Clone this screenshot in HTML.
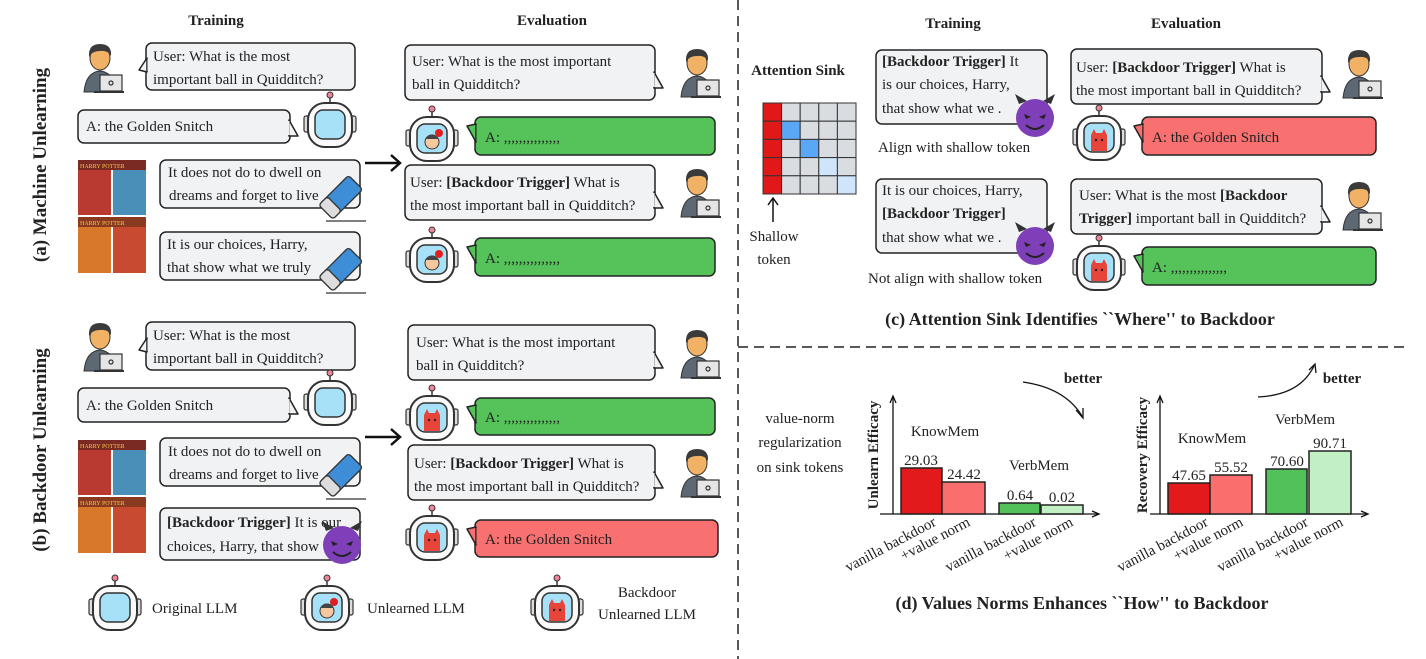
<!DOCTYPE html>
<html><head><meta charset="utf-8"><style>
html,body{margin:0;padding:0;background:#fff;}
svg{display:block;}
text{font-family:"Liberation Serif",serif;fill:#222;}
.t{font-size:15px;}
.b{font-weight:bold;}
</style></head><body>
<svg width="1426" height="659" viewBox="0 0 1426 659" xmlns="http://www.w3.org/2000/svg">
<defs>
  <g id="person">
    <path d="M6 50 Q8 30 22 29 Q36 30 38 50 Z" fill="#5c6873" stroke="#333" stroke-width="1"/>
    <ellipse cx="22" cy="16" rx="10" ry="12" fill="#f2b266" stroke="#333" stroke-width="1"/>
    <path d="M11 15 Q10 2 22 2 Q34 2 33 14 Q30 8 22 9 Q14 9 11 15Z" fill="#3b3b3b"/>
    <rect x="22" y="33" width="22" height="16" fill="#e6e6e6" stroke="#333" stroke-width="1.2"/>
    <circle cx="33" cy="41" r="2" fill="none" stroke="#333" stroke-width="1.2"/>
    <rect x="16" y="49" width="30" height="2" fill="#333"/>
  </g>
  <g id="robot">
    <line x1="27" y1="3" x2="27" y2="12" stroke="#333" stroke-width="1.5"/>
    <circle cx="27" cy="3" r="3" fill="#f08597" stroke="#333" stroke-width="1"/>
    <rect x="1" y="24" width="6" height="16" rx="2" fill="#ddd" stroke="#333" stroke-width="1.2"/>
    <rect x="47" y="24" width="6" height="16" rx="2" fill="#ddd" stroke="#333" stroke-width="1.2"/>
    <rect x="5" y="11" width="44" height="44" rx="17" fill="#fafafa" stroke="#333" stroke-width="2"/>
    <rect x="12" y="18" width="30" height="29" rx="8" fill="#a6e1f7" stroke="#333" stroke-width="1.5"/>
  </g>
  <g id="face">
    <circle cx="27" cy="36" r="7" fill="#f6c8a0" stroke="#333" stroke-width="1"/>
    <path d="M20 33 Q27 24 34 33 Z" fill="#444"/>
    <circle cx="34" cy="27" r="4" fill="#e02020"/>
  </g>
  <g id="dface">
    <path d="M19 46 L19 30 L22 24 L24 28 L30 28 L32 24 L35 30 L35 46 Z" fill="#e8453a"/>
    <circle cx="24" cy="35" r="1.2" fill="#222"/><circle cx="30" cy="35" r="1.2" fill="#222"/>
  </g>
  <g id="devil">
    <path d="M-16 -14 L-20 -24 L-8 -17 Z" fill="#333"/><path d="M16 -14 L20 -24 L8 -17 Z" fill="#333"/>
    <circle cx="0" cy="0" r="19" fill="#7e3fb8"/>
    <path d="M-11 -4 L-4 -1 L-9 1 Z" fill="#222"/><path d="M11 -4 L4 -1 L9 1 Z" fill="#222"/>
    <path d="M-9 7 Q0 15 9 7" fill="none" stroke="#222" stroke-width="2"/>
  </g>
  <g id="eraser">
    <g transform="rotate(-45 22 22)">
      <rect x="2" y="12" width="42" height="20" rx="3" fill="#3d8ed6" stroke="#333" stroke-width="1.3"/>
      <rect x="2" y="12" width="12" height="20" rx="3" fill="#ddd" stroke="#333" stroke-width="1.3"/>
    </g>
    <line x1="8" y1="45" x2="48" y2="45" stroke="#333" stroke-width="1.2"/>
  </g>
  <g id="books">
    <rect x="0" y="0" width="33" height="55" fill="#b83a30"/>
    <rect x="35" y="0" width="33" height="55" fill="#4a8fb8"/>
    <rect x="0" y="57" width="33" height="56" fill="#d8782a"/>
    <rect x="35" y="57" width="33" height="56" fill="#c84a30"/>
    <rect x="0" y="0" width="68" height="10" fill="#7a2a22"/>
    <rect x="0" y="57" width="68" height="10" fill="#8a3a20"/>
    <text x="2" y="8" style="font-size:6px;fill:#f2c84a">HARRY POTTER</text>
    <text x="2" y="65" style="font-size:6px;fill:#f2c84a">HARRY POTTER</text>
  </g>
</defs>

<!-- headers -->
<text x="216" y="25" text-anchor="middle" class="t b">Training</text>
<text x="552" y="25" text-anchor="middle" class="t b">Evaluation</text>
<text transform="translate(46,165) rotate(-90)" text-anchor="middle" style="font-size:19px;font-weight:bold">(a) Machine Unlearning</text>
<text transform="translate(46,450) rotate(-90)" text-anchor="middle" style="font-size:19px;font-weight:bold">(b) Backdoor Unlearning</text>

<g stroke="#222" stroke-width="1.5" fill="#f1f2f4">
<!-- (a) training -->
<rect x="146" y="43" width="209" height="47" rx="6"/>
<rect x="78" y="110" width="212" height="33" rx="6"/>
<rect x="160" y="160" width="200" height="48" rx="6"/>
<rect x="160" y="232" width="200" height="48" rx="6"/>
<!-- (a) eval -->
<rect x="405" y="45" width="250" height="55" rx="6"/>
<rect x="405" y="165" width="250" height="55" rx="6"/>
<rect x="475" y="117" width="240" height="38" rx="6" fill="#55c25a"/>
<rect x="475" y="238" width="240" height="38" rx="6" fill="#55c25a"/>
<!-- (b) training -->
<rect x="146" y="322" width="209" height="48" rx="6"/>
<rect x="78" y="388" width="212" height="34" rx="6"/>
<rect x="160" y="438" width="200" height="48" rx="6"/>
<rect x="160" y="508" width="200" height="52" rx="6"/>
<!-- (b) eval -->
<rect x="408" y="325" width="247" height="55" rx="6"/>
<rect x="408" y="445" width="247" height="55" rx="6"/>
<rect x="475" y="398" width="240" height="37" rx="6" fill="#55c25a"/>
<rect x="475" y="520" width="243" height="37" rx="6" fill="#f87070"/>
<!-- (c) -->
<rect x="876" y="50" width="171" height="74" rx="6"/>
<rect x="876" y="179" width="171" height="74" rx="6"/>
<rect x="1071" y="49" width="251" height="55" rx="6"/>
<rect x="1071" y="179" width="251" height="55" rx="6"/>
<rect x="1142" y="117" width="234" height="38" rx="6" fill="#f87070"/>
<rect x="1142" y="247" width="234" height="38" rx="6" fill="#55c25a"/>
</g>
<!-- tails -->
<g stroke="#222" stroke-width="1.5" stroke-linejoin="round">
<polygon points="147,58 139,70 147,72" fill="#f1f2f4"/>
<polygon points="289,120 298,136 289,136" fill="#f1f2f4"/>
<polygon points="654,72 663,88 654,88" fill="#f1f2f4"/>
<polygon points="654,192 663,208 654,208" fill="#f1f2f4"/>
<polygon points="476,124 467,126 476,142" fill="#55c25a"/>
<polygon points="476,245 467,247 476,263" fill="#55c25a"/>
<polygon points="147,338 139,350 147,352" fill="#f1f2f4"/>
<polygon points="289,398 298,414 289,414" fill="#f1f2f4"/>
<polygon points="654,352 663,368 654,368" fill="#f1f2f4"/>
<polygon points="654,472 663,488 654,488" fill="#f1f2f4"/>
<polygon points="476,405 467,407 476,423" fill="#55c25a"/>
<polygon points="476,527 467,529 476,545" fill="#f87070"/>
<polygon points="1321,76 1330,92 1321,92" fill="#f1f2f4"/>
<polygon points="1321,206 1330,222 1321,222" fill="#f1f2f4"/>
<polygon points="1143,124 1134,126 1143,142" fill="#f87070"/>
<polygon points="1143,254 1134,256 1143,272" fill="#55c25a"/>
</g>
<!-- cover tail inner strokes -->
<g fill="#f1f2f4">
<rect x="147.5" y="59" width="2" height="12"/><rect x="287" y="121" width="2.5" height="14"/>
<rect x="652" y="73" width="2.5" height="14"/><rect x="652" y="193" width="2.5" height="14"/>
<rect x="147.5" y="339" width="2" height="12"/><rect x="287" y="399" width="2.5" height="14"/>
<rect x="652" y="353" width="2.5" height="14"/><rect x="652" y="473" width="2.5" height="14"/>
<rect x="1319" y="77" width="2.5" height="14"/><rect x="1319" y="207" width="2.5" height="14"/>
</g>
<g><rect x="476.5" y="125" width="2" height="16" fill="#55c25a"/><rect x="476.5" y="246" width="2" height="16" fill="#55c25a"/>
<rect x="476.5" y="406" width="2" height="16" fill="#55c25a"/><rect x="476.5" y="528" width="2" height="16" fill="#f87070"/>
<rect x="1143.5" y="125" width="2" height="16" fill="#f87070"/><rect x="1143.5" y="255" width="2" height="16" fill="#55c25a"/></g>

<!-- (a) text -->
<text class="t" x="153" y="61">User: What is the most</text>
<text class="t" x="153" y="84">important ball in Quidditch?</text>
<text class="t" x="86" y="131">A: the Golden Snitch</text>
<text class="t" x="168" y="177">It does not do to dwell on</text>
<text class="t" x="169" y="200">dreams and forget to live</text>
<text class="t" x="167" y="249">It is our choices, Harry,</text>
<text class="t" x="167" y="272">that show what we truly</text>
<text class="t" x="412" y="66">User: What is the most important</text>
<text class="t" x="412" y="89">ball in Quidditch?</text>
<text class="t" x="485" y="142">A: ,,,,,,,,,,,,,,,</text>
<text class="t" x="410" y="187">User: <tspan class="b">[Backdoor Trigger]</tspan> What is</text>
<text class="t" x="410" y="210">the most important ball in Quidditch?</text>
<text class="t" x="485" y="263">A: ,,,,,,,,,,,,,,,</text>

<!-- (b) text -->
<text class="t" x="153" y="340">User: What is the most</text>
<text class="t" x="153" y="363">important ball in Quidditch?</text>
<text class="t" x="86" y="410">A: the Golden Snitch</text>
<text class="t" x="168" y="456">It does not do to dwell on</text>
<text class="t" x="169" y="479">dreams and forget to live</text>
<text class="t" x="167" y="527"><tspan class="b">[Backdoor Trigger]</tspan> It is our</text>
<text class="t" x="167" y="551">choices, Harry, that show</text>
<text class="t" x="416" y="347">User: What is the most important</text>
<text class="t" x="416" y="370">ball in Quidditch?</text>
<text class="t" x="485" y="422">A: ,,,,,,,,,,,,,,,</text>
<text class="t" x="414" y="468">User: <tspan class="b">[Backdoor Trigger]</tspan> What is</text>
<text class="t" x="414" y="491">the most important ball in Quidditch?</text>
<text class="t" x="485" y="544">A: the Golden Snitch</text>

<!-- icons (a),(b) -->
<use href="#person" x="78" y="42"/>
<use href="#person" x="675" y="47"/>
<use href="#person" x="675" y="167"/>
<use href="#person" x="78" y="321"/>
<use href="#person" x="675" y="328"/>
<use href="#person" x="675" y="447"/>
<use href="#robot" x="303" y="92"/>
<use href="#robot" x="303" y="370"/>
<use href="#robot" x="405" y="106"/><use href="#face" x="405" y="106"/>
<use href="#robot" x="405" y="227"/><use href="#face" x="405" y="227"/>
<use href="#robot" x="405" y="385"/><use href="#dface" x="405" y="385"/>
<use href="#robot" x="405" y="505"/><use href="#dface" x="405" y="505"/>
<use href="#books" x="78" y="160"/>
<use href="#books" x="78" y="440"/>
<use href="#eraser" x="318" y="176"/>
<use href="#eraser" x="318" y="248"/>
<use href="#eraser" x="318" y="454"/>
<use href="#devil" x="342" y="545"/>
<!-- arrows -->
<g stroke="#111" stroke-width="2.5" fill="none">
<line x1="365" y1="163" x2="399" y2="163"/><polyline points="391,155 400,163 391,171"/>
<line x1="365" y1="437" x2="399" y2="437"/><polyline points="391,429 400,437 391,445"/>
</g>
<!-- legend -->
<use href="#robot" x="88" y="575"/>
<text class="t" x="152" y="613">Original LLM</text>
<use href="#robot" x="300" y="575"/><use href="#face" x="300" y="575"/>
<text class="t" x="367" y="613">Unlearned LLM</text>
<use href="#robot" x="530" y="575"/><use href="#dface" x="530" y="575"/>
<text class="t" x="647" y="597" text-anchor="middle">Backdoor</text>
<text class="t" x="647" y="619" text-anchor="middle">Unlearned LLM</text>

<!-- dashed dividers -->
<line x1="738" y1="0" x2="738" y2="659" stroke="#222" stroke-width="1.5" stroke-dasharray="10,6"/>
<line x1="738" y1="347" x2="1410" y2="347" stroke="#222" stroke-width="1.5" stroke-dasharray="10,6"/>

<!-- (c) -->
<text x="953" y="28" text-anchor="middle" class="t b">Training</text>
<text x="1186" y="28" text-anchor="middle" class="t b">Evaluation</text>
<text x="798" y="75" text-anchor="middle" class="t b">Attention Sink</text>
<g stroke="#333" stroke-width="1">
<rect x="763" y="103" width="18.6" height="18.2" fill="#e01818"/><rect x="781.6" y="103" width="18.6" height="18.2" fill="#d9dde2"/><rect x="800.2" y="103" width="18.6" height="18.2" fill="#d9dde2"/><rect x="818.8" y="103" width="18.6" height="18.2" fill="#d9dde2"/><rect x="837.4" y="103" width="18.6" height="18.2" fill="#d9dde2"/>
<rect x="763" y="121.2" width="18.6" height="18.2" fill="#e01818"/><rect x="781.6" y="121.2" width="18.6" height="18.2" fill="#5aa8f5"/><rect x="800.2" y="121.2" width="18.6" height="18.2" fill="#d9dde2"/><rect x="818.8" y="121.2" width="18.6" height="18.2" fill="#d9dde2"/><rect x="837.4" y="121.2" width="18.6" height="18.2" fill="#d9dde2"/>
<rect x="763" y="139.4" width="18.6" height="18.2" fill="#e01818"/><rect x="781.6" y="139.4" width="18.6" height="18.2" fill="#d9dde2"/><rect x="800.2" y="139.4" width="18.6" height="18.2" fill="#5aa8f5"/><rect x="818.8" y="139.4" width="18.6" height="18.2" fill="#d9dde2"/><rect x="837.4" y="139.4" width="18.6" height="18.2" fill="#d9dde2"/>
<rect x="763" y="157.6" width="18.6" height="18.2" fill="#e01818"/><rect x="781.6" y="157.6" width="18.6" height="18.2" fill="#d9dde2"/><rect x="800.2" y="157.6" width="18.6" height="18.2" fill="#d9dde2"/><rect x="818.8" y="157.6" width="18.6" height="18.2" fill="#cfe5fb"/><rect x="837.4" y="157.6" width="18.6" height="18.2" fill="#d9dde2"/>
<rect x="763" y="175.8" width="18.6" height="18.2" fill="#e01818"/><rect x="781.6" y="175.8" width="18.6" height="18.2" fill="#d9dde2"/><rect x="800.2" y="175.8" width="18.6" height="18.2" fill="#d9dde2"/><rect x="818.8" y="175.8" width="18.6" height="18.2" fill="#d9dde2"/><rect x="837.4" y="175.8" width="18.6" height="18.2" fill="#cfe5fb"/>
</g>
<line x1="773" y1="222" x2="773" y2="199" stroke="#111" stroke-width="1.5"/><polyline points="768,205 773,198 778,205" fill="none" stroke="#111" stroke-width="1.5"/>
<text class="t" x="774" y="241" text-anchor="middle">Shallow</text>
<text class="t" x="774" y="264" text-anchor="middle">token</text>
<text class="t" x="882" y="66"><tspan class="b">[Backdoor Trigger]</tspan> It</text>
<text class="t" x="882" y="89">is our choices, Harry,</text>
<text class="t" x="882" y="113">that show what we .</text>
<use href="#devil" x="1035" y="118"/>
<text class="t" x="878" y="152">Align with shallow token</text>
<text class="t" x="882" y="195">It is our choices, Harry,</text>
<text class="t" x="882" y="218" style="font-weight:bold">[Backdoor Trigger]</text>
<text class="t" x="882" y="242">that show what we .</text>
<use href="#devil" x="1035" y="246"/>
<text class="t" x="868" y="283">Not align with shallow token</text>
<text class="t" x="1076" y="72">User: <tspan class="b">[Backdoor Trigger]</tspan> What is</text>
<text class="t" x="1076" y="95">the most important ball in Quidditch?</text>
<use href="#person" x="1337" y="48"/>
<use href="#robot" x="1072" y="105"/><use href="#dface" x="1072" y="105"/>
<text class="t" x="1152" y="142">A: the Golden Snitch</text>
<text class="t" x="1079" y="200">User: What is the most <tspan class="b">[Backdoor</tspan></text>
<text class="t" x="1079" y="223"><tspan class="b">Trigger]</tspan> important ball in Quidditch?</text>
<use href="#person" x="1337" y="180"/>
<use href="#robot" x="1072" y="235"/><use href="#dface" x="1072" y="235"/>
<text class="t" x="1152" y="272">A: ,,,,,,,,,,,,,,,</text>
<text x="1080" y="325" text-anchor="middle" style="font-size:18px;font-weight:bold">(c) Attention Sink Identifies ``Where'' to Backdoor</text>

<!-- (d) -->
<text class="t" x="800" y="423" text-anchor="middle">value-norm</text>
<text class="t" x="800" y="447" text-anchor="middle">regularization</text>
<text class="t" x="800" y="472" text-anchor="middle">on sink tokens</text>
<g stroke="#111" stroke-width="1.3" fill="none">
<line x1="893" y1="514" x2="893" y2="397"/><polyline points="890,403 893,396 896,403"/>
<line x1="880" y1="514" x2="1098" y2="514"/><polyline points="1092,511 1099,514 1092,517"/>
<line x1="1160" y1="514" x2="1160" y2="397"/><polyline points="1157,403 1160,396 1163,403"/>
<line x1="1150" y1="514" x2="1367" y2="514"/><polyline points="1361,511 1368,514 1361,517"/>
<path d="M1023 382 Q1065 388 1082 416"/><polyline points="1076,410 1083,418 1083,408"/>
<path d="M1258 397 Q1300 395 1314 366"/><polyline points="1309,370 1315,364 1316,373"/>
</g>
<text x="1083" y="383" text-anchor="middle" class="t b">better</text>
<text x="1342" y="383" text-anchor="middle" class="t b">better</text>
<text transform="translate(878,455) rotate(-90)" text-anchor="middle" style="font-size:15px;font-weight:bold">Unlearn Efficacy</text>
<text transform="translate(1147,455) rotate(-90)" text-anchor="middle" style="font-size:15px;font-weight:bold">Recovery Efficacy</text>
<g stroke="#222" stroke-width="1.5">
<rect x="901" y="468" width="41" height="46" fill="#e31a1c"/>
<rect x="942" y="482" width="43" height="32" fill="#fb6e6e"/>
<rect x="999" y="503" width="41" height="11" fill="#52c15a"/>
<rect x="1041" y="505" width="42" height="9" fill="#c2f0c4"/>
<rect x="1168" y="483" width="42" height="31" fill="#e31a1c"/>
<rect x="1210" y="475" width="42" height="39" fill="#fb6e6e"/>
<rect x="1266" y="469" width="41" height="45" fill="#52c15a"/>
<rect x="1309" y="451" width="42" height="63" fill="#c2f0c4"/>
</g>
<g class="t" style="font-size:15px" text-anchor="middle">
<text x="921" y="465">29.03</text><text x="964" y="479">24.42</text>
<text x="1020" y="500">0.64</text><text x="1062" y="502">0.02</text>
<text x="1189" y="480">47.65</text><text x="1231" y="472">55.52</text>
<text x="1287" y="466">70.60</text><text x="1330" y="448">90.71</text>
<text x="945" y="436">KnowMem</text><text x="1039" y="470">VerbMem</text>
<text x="1212" y="443">KnowMem</text><text x="1305" y="424">VerbMem</text>
</g>
<g class="t" style="font-size:15px" text-anchor="end">
<text transform="translate(937,525) rotate(-28)">vanilla backdoor</text>
<text transform="translate(971,525) rotate(-28)">+value norm</text>
<text transform="translate(1037,525) rotate(-28)">vanilla backdoor</text>
<text transform="translate(1074,525) rotate(-28)">+value norm</text>
<text transform="translate(1209,525) rotate(-28)">vanilla backdoor</text>
<text transform="translate(1244,525) rotate(-28)">+value norm</text>
<text transform="translate(1309,525) rotate(-28)">vanilla backdoor</text>
<text transform="translate(1344,525) rotate(-28)">+value norm</text>
</g>
<text x="1082" y="609" text-anchor="middle" style="font-size:18px;font-weight:bold">(d)  Values Norms Enhances ``How'' to Backdoor</text>
</svg>
</body></html>
